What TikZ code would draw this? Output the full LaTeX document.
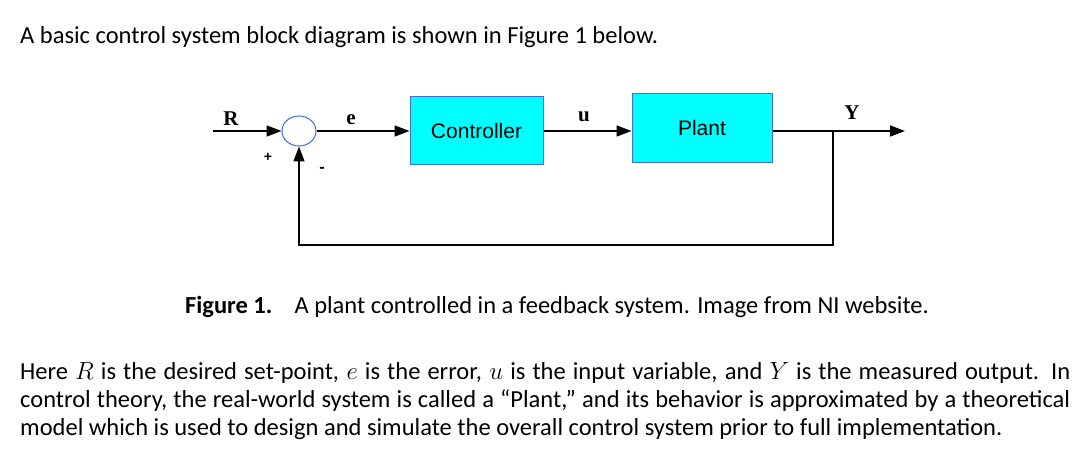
\documentclass[tikz,border=0pt]{standalone}
\usepackage{fontspec}
\setmainfont{Carlito}
\newfontfamily\diagsans{Liberation Sans}
\newfontfamily\diagserif{Liberation Serif}
\usetikzlibrary{arrows.meta,shapes.geometric}
\definecolor{boxcyan}{RGB}{0,255,255}
\definecolor{boxedge}{RGB}{60,110,230}
\begin{document}
\begin{tikzpicture}[x=1pt,y=-1pt,
  blk/.style={draw=boxedge, fill=boxcyan, line width=1pt, inner sep=0pt, font=\diagsans\fontsize{21}{24}\selectfont},
  sig/.style={line width=1.6pt},
  arr/.style={sig,-{Triangle[length=15pt,width=11pt]}},
  lbl/.style={font=\diagserif\bfseries\fontsize{21}{24}\selectfont},
  body/.style={font=\fontsize{24.5}{28}\selectfont, anchor=north west, inner sep=0pt}]
\useasboundingbox[fill=white] (0,0) rectangle (1084,465);
\node[body, anchor=west] (head) at (20,37) {A basic control system block diagram is shown in Figure 1 below.};
\node[draw=boxedge, fill=white, ellipse, minimum width=34pt, minimum height=30pt, inner sep=0pt, line width=1pt] (sum) at (299,131) {};
\node[blk, minimum width=133pt, minimum height=68pt] (ctrl) at (476.5,131) {Controller};
\node[blk, minimum width=140pt, minimum height=69pt] (plant) at (702,128) {Plant};
\coordinate (rin) at (213,131);
\coordinate (br) at (833,131);
\coordinate (yout) at (905,131);
\coordinate (fb) at (833,245);
\draw[arr] (rin) -- (sum.west);
\draw[arr] (sum.east) -- (ctrl.west);
\draw[arr] (ctrl.east) -- (plant.west |- ctrl.east);
\draw[sig] (plant.east |- br) -- (br);
\draw[arr] (br) -- (yout);
\draw[arr] (br) -- (fb) -- (sum.south |- fb) -- (sum.south);
\node[lbl] (lr) at (231,119) {R};
\node[lbl] (le) at (351,120) {e};
\node[lbl] (lu) at (584,117) {u};
\node[lbl] (ly) at (852,113) {Y};
\node[font=\diagsans\bfseries\fontsize{14}{16}\selectfont] (lp) at (268,157) {+};
\node[font=\diagsans\bfseries\fontsize{16}{16}\selectfont] (lm) at (322,170) {-};
\node[font=\fontsize{24.5}{28}\selectfont] (cap) at (557,307) {\textbf{Figure 1.}\hspace{0.6em} A plant controlled in a feedback system. Image from NI website.};
\node[body, text width=1050pt, align=justify] (para) at (20,362) {Here $R$ is the desired set-point, $e$ is the error, $u$ is the input variable, and $Y$ is the measured output. In control theory, the real-world system is called a “Plant,” and its behavior is approximated by a theoretical model which is used to design and simulate the overall control system prior to full implementation.};
\end{tikzpicture}
\end{document}
